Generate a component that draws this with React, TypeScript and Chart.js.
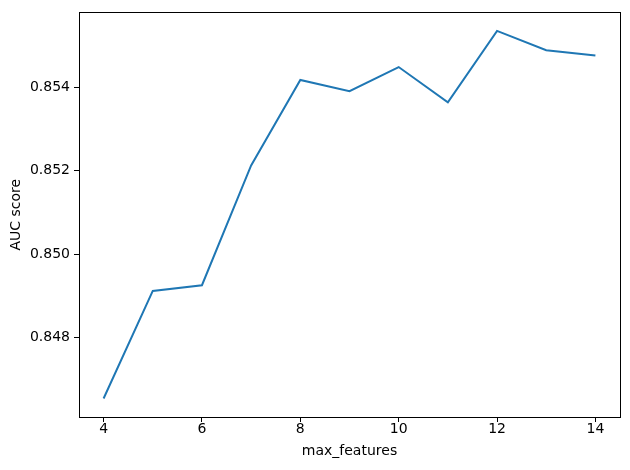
import React, { useEffect, useRef } from "react";
import { Chart, registerables } from "chart.js";

Chart.register(...registerables);

const maxFeatures = [4, 5, 6, 7, 8, 9, 10, 11, 12, 13, 14];
const aucScores = [
  0.84653, 0.849114, 0.849251, 0.852129, 0.854181, 0.853912, 0.854492,
  0.853642, 0.85536, 0.854897, 0.854771,
];
const xTicks = [4, 6, 8, 10, 12, 14];
const yTicks = [0.848, 0.85, 0.852, 0.854];

const FONT = "'DejaVu Sans', sans-serif";

const framePlugin = {
  id: "frame",
  afterDraw(chart: any) {
    const { ctx, chartArea } = chart;
    ctx.save();
    ctx.strokeStyle = "#000";
    ctx.lineWidth = 1;
    ctx.strokeRect(
      Math.round(chartArea.left) + 0.5,
      Math.round(chartArea.top) + 0.5,
      Math.round(chartArea.right - chartArea.left),
      Math.round(chartArea.bottom - chartArea.top)
    );
    ctx.restore();
  },
};

export default function App() {
  const ref = useRef<HTMLCanvasElement>(null);

  useEffect(() => {
    document.body.style.margin = "0";
    const canvas = ref.current!;
    const chart = new Chart(canvas, {
      type: "line",
      data: {
        datasets: [
          {
            data: maxFeatures.map((x, i) => ({ x, y: aucScores[i] })),
            borderColor: "#1f77b4",
            borderWidth: 2,
            pointRadius: 0,
            fill: false,
            tension: 0,
          },
        ],
      },
      options: {
        animation: false,
        responsive: false,
        maintainAspectRatio: false,
        layout: { padding: { top: 10, right: 10, left: 0, bottom: 0 } },
        plugins: {
          legend: { display: false },
          tooltip: { enabled: false },
        },
        scales: {
          x: {
            type: "linear",
            min: 3.5,
            max: 14.5,
            afterBuildTicks: (s: any) => {
              s.ticks = xTicks.map((v) => ({ value: v }));
            },
            afterFit: (s: any) => {
              s.height = 53;
            },
            grid: {
              drawOnChartArea: false,
              drawTicks: true,
              tickLength: 5,
              color: "#000",
            },
            border: { display: true, color: "#000", width: 1 },
            ticks: {
              color: "#000",
              font: { family: FONT, size: 14 },
              padding: -1,
              maxRotation: 0,
              callback: (v: any) => String(v),
            },
            title: {
              display: true,
              text: "max_features",
              color: "#000",
              font: { family: FONT, size: 14 },
              padding: { top: 0, bottom: 10 },
            },
          },
          y: {
            type: "linear",
            min: 0.846085,
            max: 0.855805,
            afterBuildTicks: (s: any) => {
              s.ticks = yTicks.map((v) => ({ value: v }));
            },
            afterFit: (s: any) => {
              s.width = 79;
            },
            grid: {
              drawOnChartArea: false,
              drawTicks: true,
              tickLength: 5,
              color: "#000",
            },
            border: { display: true, color: "#000", width: 1 },
            ticks: {
              color: "#000",
              font: { family: FONT, size: 14 },
              padding: 4,
              callback: (v: any) => Number(v).toFixed(3),
            },
            title: {
              display: true,
              text: "AUC score",
              color: "#000",
              font: { family: FONT, size: 14 },
              padding: { top: 8, bottom: 0 },
            },
          },
        },
      },
      plugins: [framePlugin],
    });
    return () => chart.destroy();
  }, []);

  return (
    <div style={{ width: 630, height: 470, background: "#fff" }}>
      <canvas ref={ref} width={630} height={470} style={{ display: "block" }} />
    </div>
  );
}
